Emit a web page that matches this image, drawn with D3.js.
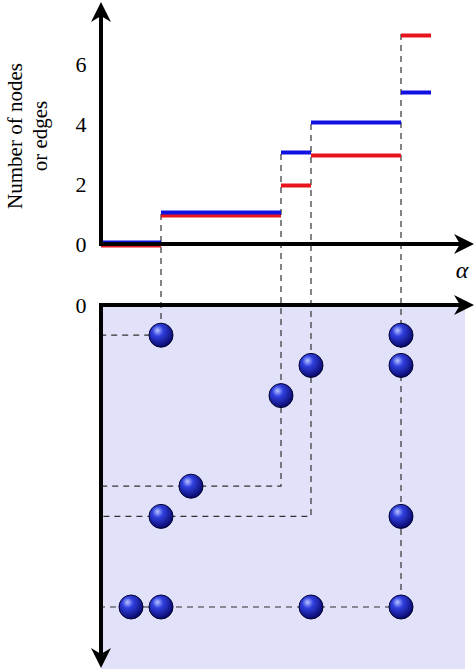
<!DOCTYPE html>
<html>
<head>
<meta charset="UTF-8">
<script src="https://d3js.org/d3.v7.min.js"></script>
<style>
  body { margin: 0; background: #fff; }
  text { font-family: "Liberation Serif", "DejaVu Serif", serif; }
</style>
</head>
<body>
<div class="canvas"></div>
<script>
// step breakpoints on alpha axis
const steps = [0, 2, 6, 7, 10, 11];
const nodes = [0, 1, 2, 3, 7];   // red
const edges = [0, 1, 3, 4, 5];   // blue
const yTicks = [0, 2, 4, 6];
// balls in lower panel: [alpha, depth]
const balls = [[2,1],[6,3],[7,2],[10,1],[10,2],[3,6],[2,7],[10,7],[1,10],[2,10],[7,10],[10,10]];
// guides: [alpha, top level, depth]
const guides = [[2,1,1],[6,3,6],[7,4,7],[10,7,10]];

const width = 474, height = 669;
const svg = d3.select('.canvas').append('svg')
  .attr('width', width).attr('height', height);

const x = d3.scaleLinear().domain([0, 1]).range([101, 131]);
const y = d3.scaleLinear().domain([0, 1]).range([244, 214]);
const d = d3.scaleLinear().domain([0, 1]).range([305, 335.2]);

const defs = svg.append('defs');
const grad = defs.append('radialGradient').attr('id', 'ball')
  .attr('cx', '0.4').attr('cy', '0.35').attr('r', '0.65').attr('fx', '0.35').attr('fy', '0.3');
grad.append('stop').attr('offset', '0%').attr('stop-color', '#b8c4ff');
grad.append('stop').attr('offset', '35%').attr('stop-color', '#3040e0');
grad.append('stop').attr('offset', '100%').attr('stop-color', '#08086a');
const arrow = defs.append('marker').attr('id', 'arr')
  .attr('viewBox', '0 0 10 10').attr('refX', 8).attr('refY', 5)
  .attr('markerWidth', 5).attr('markerHeight', 5).attr('orient', 'auto')
  .attr('markerUnits', 'strokeWidth');
arrow.append('path').attr('d', 'M0,0 L10,5 L0,10 L3,5 Z').attr('fill', '#000');

// lower panel background
svg.append('rect').attr('x', x(0)).attr('y', d(0))
  .attr('width', 465 - x(0)).attr('height', height - d(0)).attr('fill', '#e1e1fa');

// dashed guides
const g = svg.append('g').attr('stroke', '#333').attr('stroke-width', 1.2)
  .attr('stroke-dasharray', '6,5').attr('fill', 'none');
guides.forEach(([a, lv, dp]) => {
  g.append('path').attr('d', `M${x(a)},${y(lv)} V${d(dp)} H${x(0)}`);
});

// step lines
const stepSeg = (vals, color, off) => {
  vals.forEach((v, i) => {
    svg.append('line')
      .attr('x1', x(steps[i])).attr('x2', x(steps[i + 1]))
      .attr('y1', y(v) + off).attr('y2', y(v) + off)
      .attr('stroke', color).attr('stroke-width', 4);
  });
};
stepSeg(nodes, '#e8141e', 1.5);
stepSeg(edges, '#1010e0', -1.5);

// axes
svg.append('line').attr('x1', x(0)).attr('y1', y(0) + 2).attr('x2', x(0)).attr('y2', 6)
  .attr('stroke', '#000').attr('stroke-width', 4).attr('marker-end', 'url(#arr)');
svg.append('line').attr('x1', x(0) - 2).attr('y1', y(0)).attr('x2', 470).attr('y2', y(0))
  .attr('stroke', '#000').attr('stroke-width', 4).attr('marker-end', 'url(#arr)');
svg.append('line').attr('x1', x(0) - 2).attr('y1', d(0)).attr('x2', 470).attr('y2', d(0))
  .attr('stroke', '#000').attr('stroke-width', 4).attr('marker-end', 'url(#arr)');
svg.append('line').attr('x1', x(0)).attr('y1', d(0) - 2).attr('x2', x(0)).attr('y2', 664)
  .attr('stroke', '#000').attr('stroke-width', 4).attr('marker-end', 'url(#arr)');

svg.selectAll('.yt').data(yTicks).enter().append('text')
  .attr('x', 81).attr('y', v => y(v) + 8).attr('text-anchor', 'middle')
  .attr('font-size', 22).text(v => v);
svg.append('text').attr('x', 81).attr('y', d(0) + 8).attr('text-anchor', 'middle')
  .attr('font-size', 22).text('0');
svg.append('text').attr('x', 462).attr('y', 278).attr('text-anchor', 'middle')
  .attr('font-size', 24).attr('font-style', 'italic').text('α');
const lab = svg.append('text').attr('text-anchor', 'middle').attr('font-size', 21)
  .attr('transform', 'translate(0,136) rotate(-90)');
lab.append('tspan').attr('x', 0).attr('y', 22).text('Number of nodes');
lab.append('tspan').attr('x', 0).attr('y', 47).text('or edges');

// balls
svg.selectAll('.ball').data(balls).enter().append('circle')
  .attr('cx', b => x(b[0])).attr('cy', b => d(b[1])).attr('r', 12)
  .attr('fill', 'url(#ball)').attr('stroke', '#000030').attr('stroke-width', 1);
</script>
</body>
</html>
